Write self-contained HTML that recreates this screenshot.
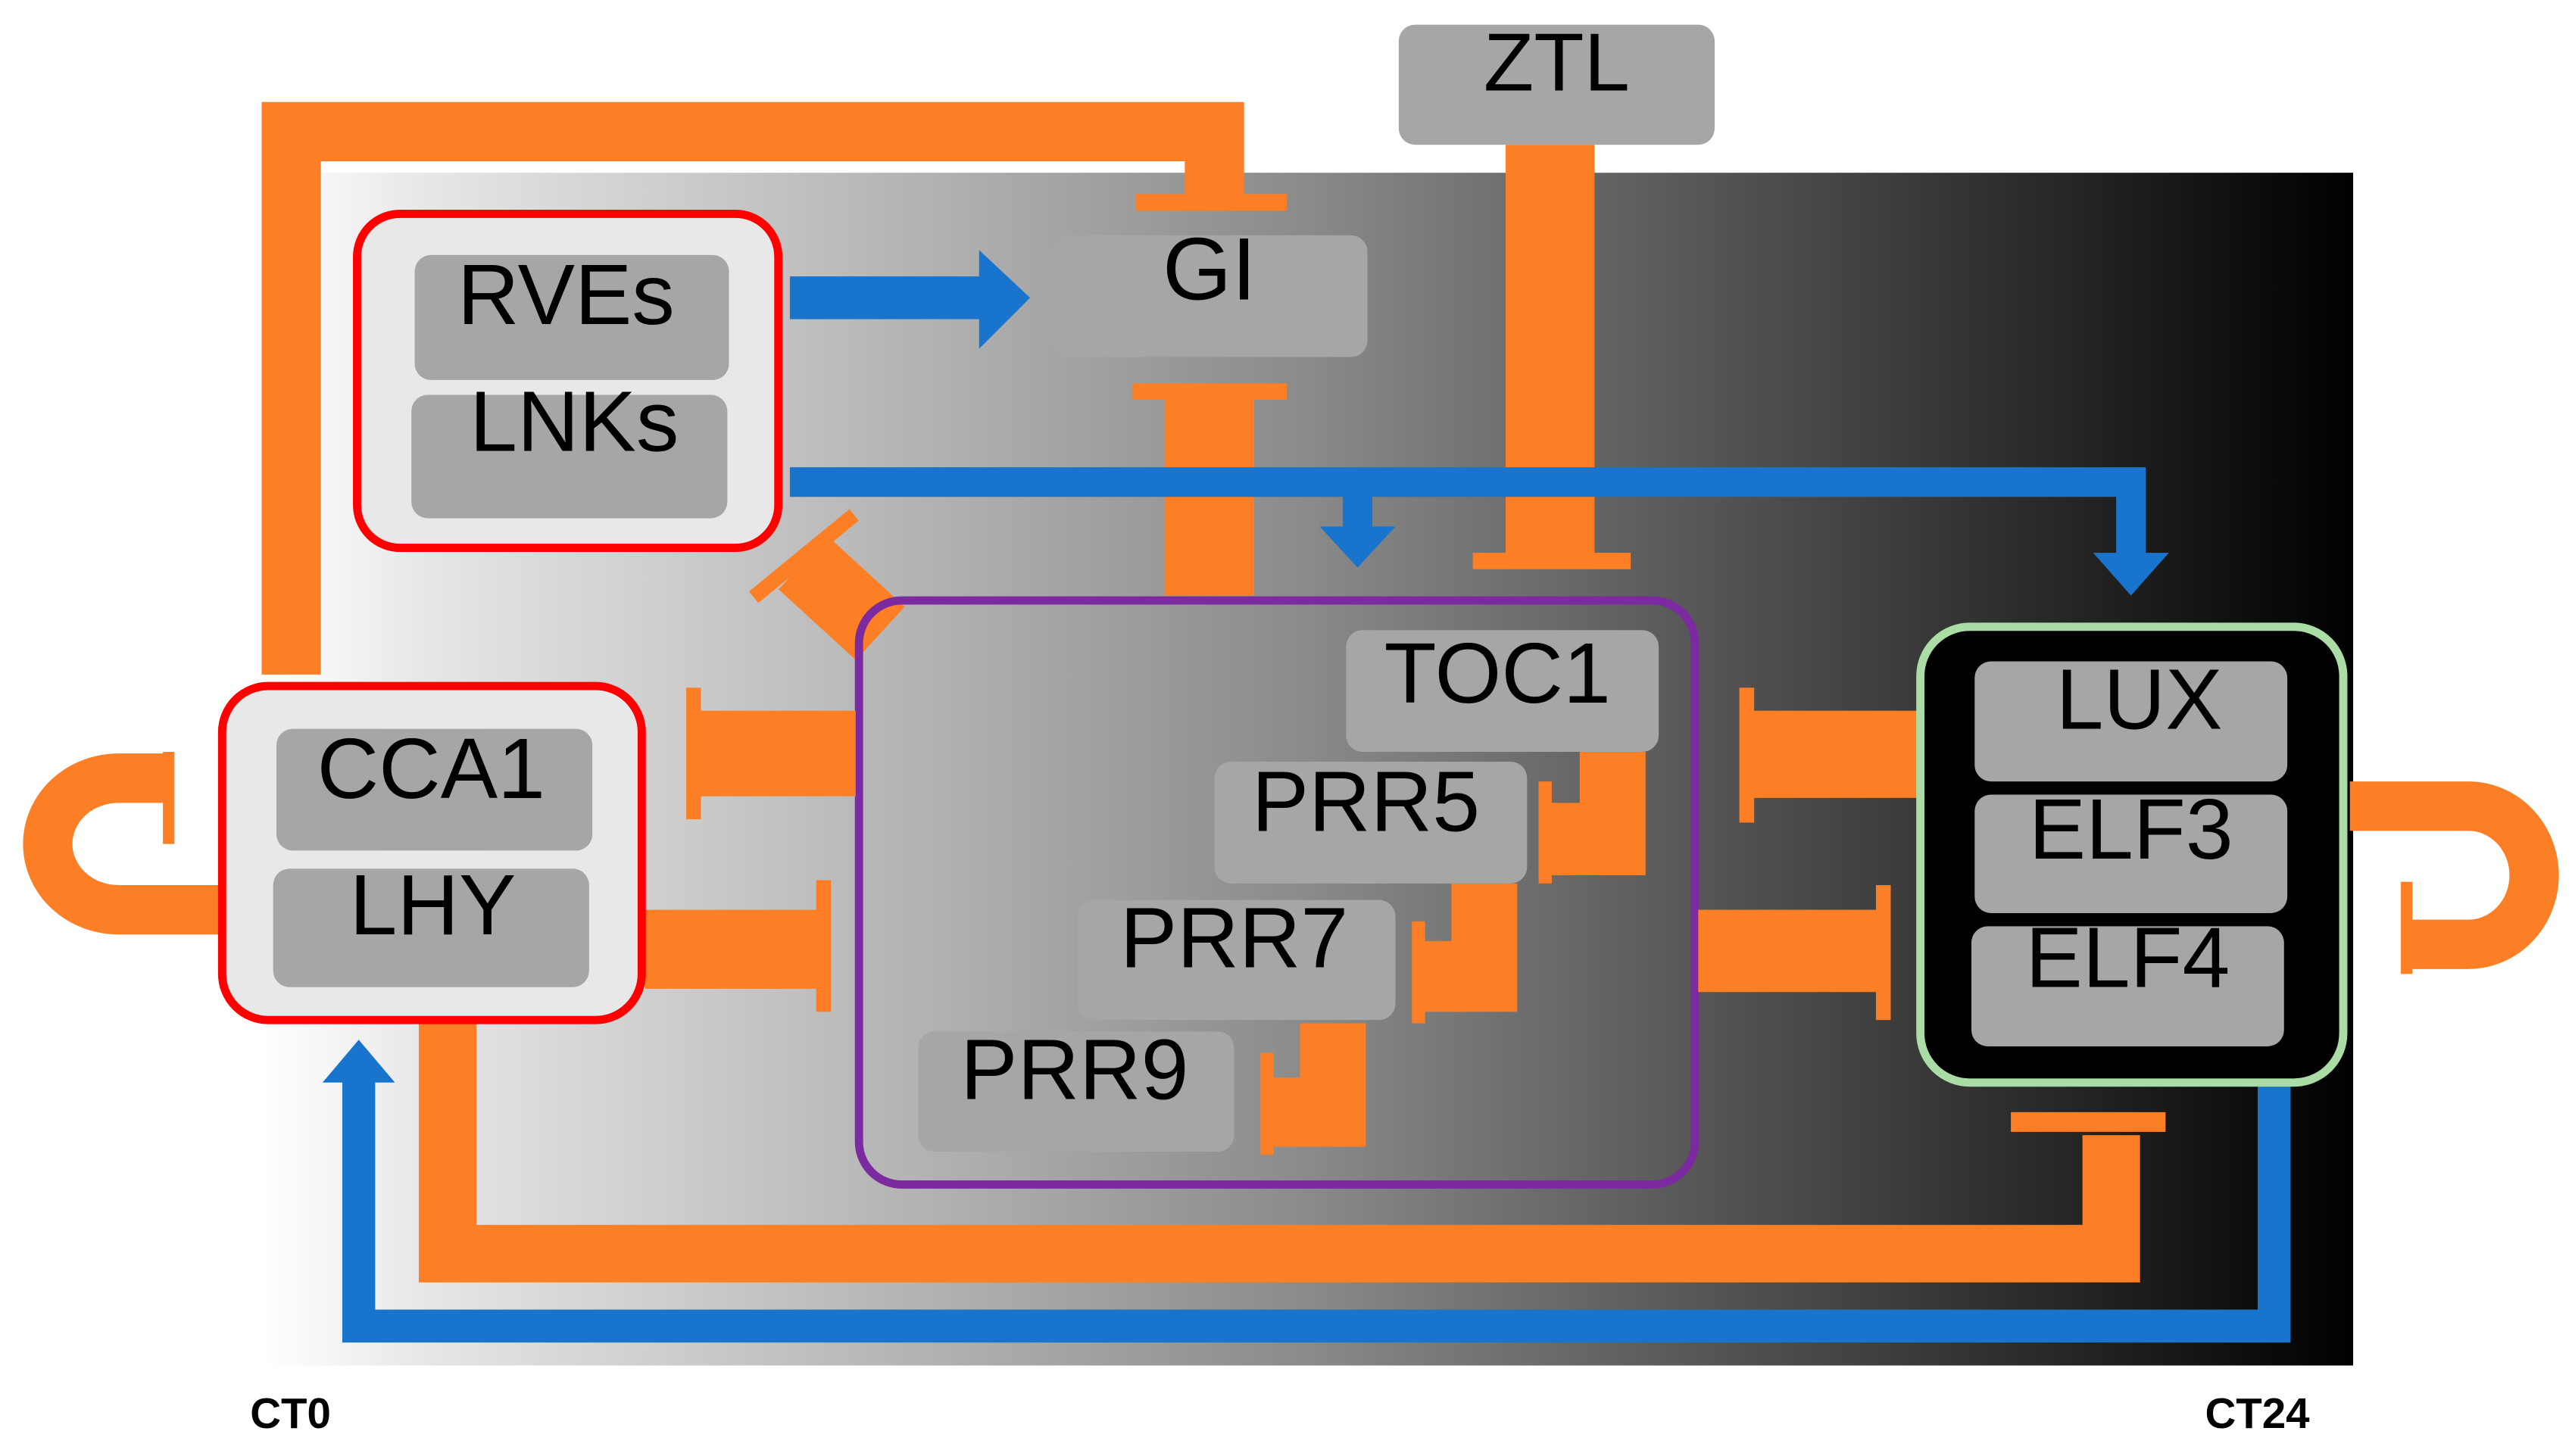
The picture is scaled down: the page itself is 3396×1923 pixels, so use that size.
<!DOCTYPE html>
<html><head><meta charset="utf-8"><style>
html,body{margin:0;padding:0;background:#fff;}
svg{display:block;}
text{font-family:"Liberation Sans",sans-serif;}
</style></head><body>
<svg width="3396" height="1923" viewBox="0 0 1563 885" preserveAspectRatio="none" xmlns="http://www.w3.org/2000/svg">
<defs>
<linearGradient id="bg" x1="0" x2="1" y1="0" y2="0">
<stop offset="0" stop-color="#ffffff"/>
<stop offset="0.08" stop-color="#e6e6e6"/>
<stop offset="0.5" stop-color="#8a8a8a"/>
<stop offset="1" stop-color="#000000"/>
</linearGradient>
</defs>
<rect x="160" y="105" width="1270" height="725" fill="url(#bg)"/>
<path d="M177 410 V80 H738 V125" fill="none" stroke="#fd7f25" stroke-width="36"/>
<rect x="690" y="118" width="92" height="10" fill="#fd7f25"/>
<rect x="915" y="88" width="54" height="252" fill="#fd7f25"/>
<rect x="895" y="336" width="96" height="10" fill="#fd7f25"/>
<rect x="850" y="15" width="192" height="73" rx="10" fill="#a6a6a6"/>
<text x="946" y="55" font-size="50" text-anchor="middle">ZTL</text>
<rect x="708" y="237" width="54" height="125" fill="#fd7f25"/>
<rect x="688" y="233" width="94" height="10" fill="#fd7f25"/>
<path d="M480 293 H1295 V338" fill="none" stroke="#1874cd" stroke-width="18"/>
<polygon points="1272,336 1318,336 1295,362" fill="#1874cd"/>
<rect x="816" y="293" width="18" height="30" fill="#1874cd"/>
<polygon points="802,320 848,320 825,345" fill="#1874cd"/>
<rect x="480" y="168" width="120" height="26" fill="#1874cd"/>
<polygon points="595,152 626,181 595,212" fill="#1874cd"/>
<rect x="640" y="143" width="191" height="74" rx="10" fill="#a6a6a6"/>
<text x="735" y="182" font-size="54" text-anchor="middle">GI</text>
<rect x="217" y="130" width="256" height="203" rx="26" fill="#e8e8e8" stroke="#ff0000" stroke-width="5"/>
<rect x="252" y="155" width="191" height="76" rx="10" fill="#a6a6a6"/>
<rect x="250" y="240" width="192" height="75" rx="10" fill="#a6a6a6"/>
<text x="344" y="197" font-size="52" text-anchor="middle">RVEs</text>
<text x="349" y="274" font-size="52" text-anchor="middle">LNKs</text>
<!-- diagonal T -->
<line x1="535" y1="385" x2="488" y2="342" stroke="#fd7f25" stroke-width="44"/>
<line x1="458" y1="363" x2="519" y2="313" stroke="#fd7f25" stroke-width="9"/>
<rect x="522" y="365" width="508" height="355" rx="26" fill="none" stroke="#7b2aa0" stroke-width="5"/>
<rect x="960" y="457" width="40" height="75" fill="#fd7f25"/><rect x="940" y="488" width="30" height="44" fill="#fd7f25"/><rect x="935" y="475" width="8" height="62" fill="#fd7f25"/>
<rect x="882" y="537" width="40" height="78" fill="#fd7f25"/><rect x="862" y="572" width="30" height="43" fill="#fd7f25"/><rect x="858" y="560" width="8" height="62" fill="#fd7f25"/>
<rect x="790" y="622" width="40" height="75" fill="#fd7f25"/><rect x="770" y="655" width="30" height="42" fill="#fd7f25"/><rect x="766" y="640" width="8" height="62" fill="#fd7f25"/>
<rect x="818" y="383" width="190" height="74" rx="10" fill="#a6a6a6"/>
<rect x="738" y="463" width="190" height="74" rx="10" fill="#a6a6a6"/>
<rect x="655" y="547" width="193" height="73" rx="10" fill="#a6a6a6"/>
<rect x="558" y="627" width="192" height="73" rx="10" fill="#a6a6a6"/>
<text x="910" y="427" font-size="52" text-anchor="middle">TOC1</text>
<text x="830" y="505" font-size="52" text-anchor="middle">PRR5</text>
<text x="750" y="588" font-size="52" text-anchor="middle">PRR7</text>
<text x="653" y="668" font-size="52" text-anchor="middle">PRR9</text>
<rect x="425" y="432" width="95" height="52" fill="#fd7f25"/><rect x="417" y="418" width="9" height="80" fill="#fd7f25"/>
<rect x="392" y="553" width="106" height="48" fill="#fd7f25"/><rect x="496" y="535" width="9" height="80" fill="#fd7f25"/>
<rect x="1062" y="432" width="105" height="53" fill="#fd7f25"/><rect x="1057" y="418" width="9" height="82" fill="#fd7f25"/>
<rect x="1032" y="553" width="112" height="50" fill="#fd7f25"/><rect x="1140" y="538" width="9" height="82" fill="#fd7f25"/>
<path d="M272 620 V762 H1283 V690" fill="none" stroke="#fd7f25" stroke-width="35"/>
<rect x="1222" y="676" width="94" height="12" fill="#fd7f25"/>
<path d="M1382 655 V806 H218 V655" fill="none" stroke="#1874cd" stroke-width="20"/>
<polygon points="196,658 240,658 218,632" fill="#1874cd"/>
<!-- self loops -->
<path d="M135 553 H72 A43 40 0 0 1 72 473 H102" fill="none" stroke="#fd7f25" stroke-width="30"/>
<rect x="99" y="457" width="7" height="56" fill="#fd7f25"/>
<path d="M1428 490 H1500 A40 42 0 0 1 1500 574 H1465" fill="none" stroke="#fd7f25" stroke-width="30"/>
<rect x="1459" y="536" width="7" height="56" fill="#fd7f25"/>
<rect x="135" y="417" width="255" height="203" rx="28" fill="#e8e8e8" stroke="#ff0000" stroke-width="5"/>
<rect x="168" y="443" width="192" height="74" rx="10" fill="#a6a6a6"/>
<rect x="166" y="528" width="192" height="72" rx="10" fill="#a6a6a6"/>
<text x="262" y="485" font-size="52" text-anchor="middle">CCA1</text>
<text x="263" y="568" font-size="52" text-anchor="middle">LHY</text>
<rect x="1167" y="381" width="257" height="277" rx="30" fill="#000" stroke="#abdca5" stroke-width="5"/>
<rect x="1200" y="402" width="190" height="73" rx="10" fill="#a6a6a6"/>
<rect x="1200" y="483" width="190" height="72" rx="10" fill="#a6a6a6"/>
<rect x="1198" y="563" width="190" height="73" rx="10" fill="#a6a6a6"/>
<text x="1300" y="443" font-size="52" text-anchor="middle">LUX</text>
<text x="1295" y="522" font-size="52" text-anchor="middle">ELF3</text>
<text x="1293" y="600" font-size="52" text-anchor="middle">ELF4</text>
<text x="152" y="868" font-size="26" font-weight="bold">CT0</text>
<text x="1340" y="868" font-size="26" font-weight="bold">CT24</text>
</svg>
</body></html>
